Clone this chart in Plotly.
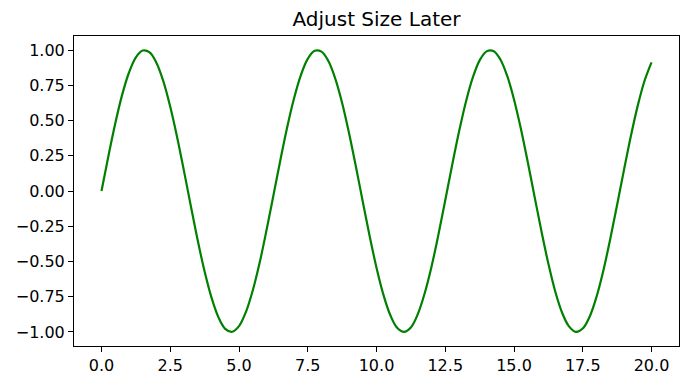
import plotly.graph_objects as go

x_values = [0.0, 0.25, 0.5, 0.75, 1.0, 1.25, 1.5, 1.75, 2.0, 2.25, 2.5, 2.75, 3.0, 3.25, 3.5, 3.75,
            4.0, 4.25, 4.5, 4.75, 5.0, 5.25, 5.5, 5.75, 6.0, 6.25, 6.5, 6.75, 7.0, 7.25, 7.5, 7.75,
            8.0, 8.25, 8.5, 8.75, 9.0, 9.25, 9.5, 9.75, 10.0, 10.25, 10.5, 10.75, 11.0, 11.25, 11.5, 11.75,
            12.0, 12.25, 12.5, 12.75, 13.0, 13.25, 13.5, 13.75, 14.0, 14.25, 14.5, 14.75, 15.0, 15.25, 15.5, 15.75,
            16.0, 16.25, 16.5, 16.75, 17.0, 17.25, 17.5, 17.75, 18.0, 18.25, 18.5, 18.75, 19.0, 19.25, 19.5, 19.75, 20.0]
y_values = [0.000, 0.247, 0.479, 0.682, 0.841, 0.949, 0.997, 0.984, 0.909, 0.778, 0.598, 0.382, 0.141, -0.108, -0.351, -0.572,
            -0.757, -0.895, -0.978, -0.999, -0.959, -0.859, -0.706, -0.510, -0.279, -0.033, 0.215, 0.451, 0.657, 0.823, 0.938, 0.995,
            0.989, 0.922, 0.798, 0.625, 0.412, 0.174, -0.075, -0.320, -0.544, -0.735, -0.880, -0.971, -1.000, -0.968, -0.875, -0.727,
            -0.537, -0.311, -0.066, 0.183, 0.420, 0.632, 0.804, 0.927, 0.991, 0.994, 0.935, 0.818, 0.650, 0.442, 0.206, -0.042,
            -0.288, -0.516, -0.713, -0.864, -0.961, -1.000, -0.976, -0.892, -0.751, -0.564, -0.340, -0.097, 0.150, 0.390, 0.606, 0.784, 0.913]

x_ticks = [0.0, 2.5, 5.0, 7.5, 10.0, 12.5, 15.0, 17.5, 20.0]
x_tick_labels = ["0.0", "2.5", "5.0", "7.5", "10.0", "12.5", "15.0", "17.5", "20.0"]
y_ticks = [1.0, 0.75, 0.5, 0.25, 0.0, -0.25, -0.5, -0.75, -1.0]
y_tick_labels = ["1.00", "0.75", "0.50", "0.25", "0.00", "\u22120.25", "\u22120.50", "\u22120.75", "\u22121.00"]

title_text = "Adjust Size Later"

fig = go.Figure()
fig.add_trace(go.Scatter(x=x_values, y=y_values, mode="lines",
                         line=dict(color="#008000", width=2.2, shape="spline", smoothing=1.0),
                         showlegend=False, hoverinfo="skip"))

axis_common = dict(showgrid=False, zeroline=False, showline=True, linecolor="black", linewidth=1,
                   mirror=True, ticks="outside", ticklen=5, tickwidth=1, tickcolor="black",
                   tickfont=dict(family="DejaVu Sans", size=16, color="black"))

fig.update_layout(
    width=698, height=387,
    margin=dict(l=74, r=19, t=36, b=37),
    paper_bgcolor="white", plot_bgcolor="white",
    title=dict(text=title_text, x=376.5 / 698, xanchor="center", y=1 - 18.5 / 387, yanchor="middle",
               xref="container", yref="container",
               font=dict(family="DejaVu Sans", size=20, color="black")),
    xaxis=dict(range=[-1.0, 21.0], tickvals=x_ticks, ticktext=x_tick_labels, **axis_common),
    yaxis=dict(range=[-1.1, 1.1], tickvals=y_ticks, ticktext=y_tick_labels, **axis_common),
)

fig.write_html("out.html")
